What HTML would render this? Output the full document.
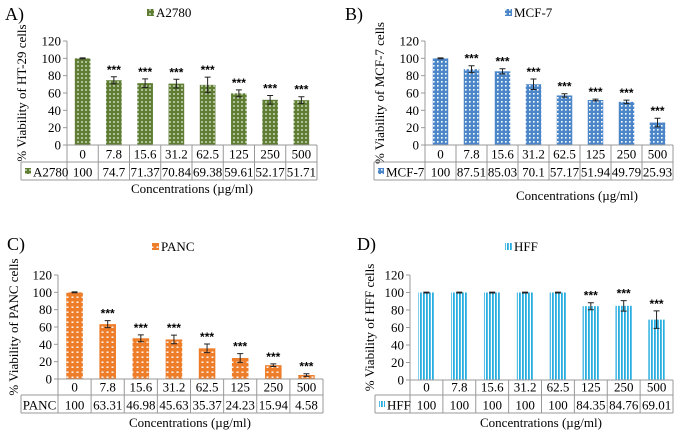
<!DOCTYPE html>
<html><head><meta charset="utf-8"><style>
html,body{margin:0;padding:0;background:#fff;}
svg{display:block;font-family:"Liberation Serif",serif;}
</style></head><body>
<svg id="s" width="685" height="433" viewBox="0 0 685 433">
<defs>
<pattern id="pA" width="4" height="4" patternUnits="userSpaceOnUse"><rect width="4" height="4" fill="#5f7d33"/><circle cx="2" cy="2" r="0.9" fill="#e8eedd"/></pattern>
<pattern id="pB" width="4" height="4" patternUnits="userSpaceOnUse"><rect width="4" height="4" fill="#4a86c8"/><rect x="1" y="1" width="1.6" height="1.6" fill="#fff"/></pattern>
<pattern id="pC" width="5" height="5" patternUnits="userSpaceOnUse"><rect width="5" height="5" fill="#ee7d2a"/><rect x="1.5" y="1.5" width="2" height="1.4" fill="#fff"/></pattern>
<pattern id="pD" width="3" height="3" patternUnits="userSpaceOnUse"><rect width="3" height="3" fill="#fff"/><rect width="1.8" height="3" fill="#29aee0"/></pattern>
</defs>
</svg>
<script>
const categories=["0","7.8","15.6","31.2","62.5","125","250","500"];
const valuesA=[100,74.7,71.37,70.84,69.38,59.61,52.17,51.71];
const errorsA=[0.5,4,5,5,9,4,5,4];
const valuesB=[100,87.51,85.03,70.1,57.17,51.94,49.79,25.93];
const errorsB=[0.5,4,3,6,2,1,2,5];
const valuesC=[100,63.31,46.98,45.63,35.37,24.23,15.94,4.58];
const errorsC=[0.5,4,4,5,5,5,1.5,1.5];
const valuesD=[100,100,100,100,100,84.35,84.76,69.01];
const errorsD=[0.5,0.5,0.5,0.5,0.5,4,6,10];
const sigA=[0,1,1,1,1,1,1,1];
const sigB=[0,1,1,1,1,1,1,1];
const sigC=[0,1,1,1,1,1,1,1];
const sigD=[0,0,0,0,0,1,1,1];
const yTicks=[0,20,40,60,80,100,120];
const labelA="A2780",labelB="MCF-7",labelC="PANC",labelD="HFF";

const NS="http://www.w3.org/2000/svg";
const svg=document.getElementById('s');
function mk(tag,attrs,parent,text){const e=document.createElementNS(NS,tag);for(const k in attrs)e.setAttribute(k,attrs[k]);if(text!==undefined)e.textContent=text;(parent||svg).appendChild(e);return e;}

const panels=[
 {id:"a",letter:"A)",lx:5,ly:20,label:labelA,vals:valuesA,errs:errorsA,sig:sigA,fill:"url(#pA)",ax:67,right:317,y0:145,y120:41,r1:162,r2:180,tableLeft:21,titleY:193,legX:165,legY:17,yTitle:"% Viability of HT-29 cells",ytx:22,titleX:192,swatch:true},
 {id:"b",letter:"B)",lx:345,ly:20,label:labelB,vals:valuesB,errs:errorsB,sig:sigB,fill:"url(#pB)",ax:425,right:673,y0:145,y120:41,r1:162,r2:180,tableLeft:374,titleY:200,legX:523,legY:17,yTitle:"% Viability of MCF-7 cells",ytx:380,titleX:577,swatch:true},
 {id:"c",letter:"C)",lx:7,ly:250,label:labelC,vals:valuesC,errs:errorsC,sig:sigC,fill:"url(#pC)",ax:58,right:323,y0:379,y120:275,r1:395,r2:413,tableLeft:21,titleY:427,legX:170,legY:251,yTitle:"% Viability of PANC cells",ytx:14,titleX:190,swatch:false},
 {id:"d",letter:"D)",lx:357,ly:250,label:labelD,vals:valuesD,errs:errorsD,sig:sigD,fill:"url(#pD)",ax:410,right:673,y0:380,y120:275,r1:395,r2:413,tableLeft:375,titleY:427,legX:523,legY:251,yTitle:"% Viability of HFF cells",ytx:370,titleX:541,swatch:true}
];
const FS=13;
panels.forEach(p=>{
 const g=mk('g',{});
 
 
 const yS=v=>p.y0-(v/120)*(p.y0-p.y120);
 const n=categories.length;const cw=(p.right-p.ax)/n;
 const xC=i=>p.ax+cw*(i+0.5);
 const t=mk('text',{x:p.lx,y:p.ly,'font-size':18},g,p.letter);
 
 const lg=mk('g',{},g);
 
 mk('rect',{x:p.legX-18,y:p.legY-8,width:7,height:7,fill:p.fill},lg);
 mk('text',{x:p.legX-9,y:p.legY,'font-size':FS},lg,p.label);
 const ya=mk('g',{},g);
 
 mk('line',{x1:p.ax,y1:p.y120,x2:p.ax,y2:p.y0,stroke:'#999','stroke-width':1},ya);
 yTicks.forEach(v=>{
  mk('line',{x1:p.ax-4,x2:p.ax,y1:yS(v),y2:yS(v),stroke:'#999'},ya);
  mk('text',{x:p.ax-6,y:yS(v)+4.5,'font-size':FS,'text-anchor':'end'},ya,String(v));
 });
 const yt=mk('text',{x:0,y:0,'font-size':FS,'text-anchor':'middle',transform:`translate(${p.ytx+4},${(p.y0+p.y120)/2}) rotate(-90)`},g,p.yTitle);
 
 p.vals.forEach((v,i)=>{
  const bw=cw*0.5;
  const b=mk('rect',{x:xC(i)-bw/2,y:yS(v),width:bw,height:p.y0-yS(v),fill:p.fill},g);
  
  const e=p.errs[i];const top=yS(v+e),bot=yS(v-e);
  const eb=mk('path',{d:`M${xC(i)},${top}V${bot}M${xC(i)-3},${top}H${xC(i)+3}M${xC(i)-3},${bot}H${xC(i)+3}`,stroke:'#222','stroke-width':1,fill:'none'},g);
  
  if(p.sig[i]){const s=mk('text',{x:xC(i),y:top-3,'font-size':12,'font-weight':'bold','text-anchor':'middle','font-family':'Liberation Sans, sans-serif'},g,'***');
   }
 });
 const tb=mk('g',{},g);
 
 const st={stroke:'#999','stroke-width':1,fill:'none'};
 mk('line',Object.assign({x1:p.ax,x2:p.right,y1:p.y0,y2:p.y0},st),tb);
 mk('line',Object.assign({x1:p.tableLeft,x2:p.right,y1:p.r1,y2:p.r1},st),tb);
 mk('line',Object.assign({x1:p.tableLeft,x2:p.right,y1:p.r2,y2:p.r2},st),tb);
 mk('line',Object.assign({x1:p.tableLeft,x2:p.tableLeft,y1:p.r1,y2:p.r2},st),tb);
 for(let i=0;i<=n;i++){const x=p.ax+cw*i;mk('line',Object.assign({x1:x,x2:x,y1:p.y0,y2:p.r2},st),tb);}
 categories.forEach((c,i)=>{
  mk('text',{x:xC(i),y:p.r1-3.5,'font-size':FS,'text-anchor':'middle'},tb,c);
  mk('text',{x:xC(i),y:p.r2-3.5,'font-size':FS,'text-anchor':'middle'},tb,String(p.vals[i]));
 });
 if(p.swatch){
  mk('rect',{x:p.tableLeft+4,y:p.r2-12,width:6,height:6,fill:p.fill},tb);
  mk('text',{x:p.tableLeft+12,y:p.r2-3.5,'font-size':FS},tb,p.label);
 } else {
  mk('text',{x:(p.tableLeft+p.ax)/2,y:p.r2-3.5,'font-size':FS,'text-anchor':'middle'},tb,p.label);
 }
 const xt=mk('text',{x:p.titleX,y:p.titleY,'font-size':FS,'text-anchor':'middle'},g,'Concentrations (µg/ml)');
 
});
</script>
</body></html>
